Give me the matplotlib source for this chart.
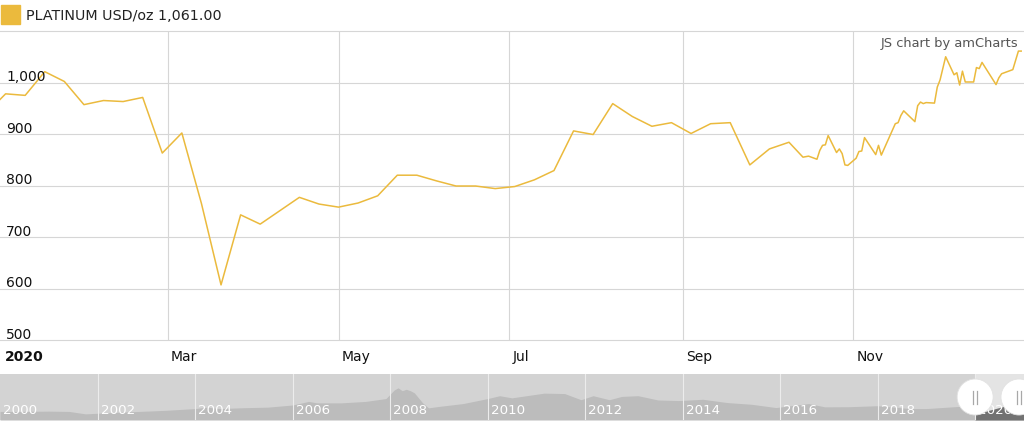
import matplotlib
matplotlib.use("Agg")
import matplotlib.pyplot as plt
import matplotlib.dates as mdates
import matplotlib.transforms as mtransforms
import numpy as np
import pandas as pd
from matplotlib.patches import Circle, Rectangle

# --- data -------------------------------------------------------------
dates = [
    "2020-01-01", "2020-01-03", "2020-01-10", "2020-01-17", "2020-01-24",
    "2020-01-31", "2020-02-07", "2020-02-14", "2020-02-21", "2020-02-28",
    "2020-03-06", "2020-03-13", "2020-03-20", "2020-03-27", "2020-04-03",
    "2020-04-17", "2020-04-24", "2020-05-01", "2020-05-08", "2020-05-15",
    "2020-05-22", "2020-05-29", "2020-06-05", "2020-06-12", "2020-06-19",
    "2020-06-26", "2020-07-03", "2020-07-10", "2020-07-17", "2020-07-24",
    "2020-07-31", "2020-08-07", "2020-08-14", "2020-08-21", "2020-08-28",
    "2020-09-04", "2020-09-11", "2020-09-18", "2020-09-25", "2020-10-02",
    "2020-10-09", "2020-10-14", "2020-10-16", "2020-10-19", "2020-10-20",
    "2020-10-21", "2020-10-22", "2020-10-23", "2020-10-26", "2020-10-27",
    "2020-10-28", "2020-10-29", "2020-10-30", "2020-11-02", "2020-11-03",
    "2020-11-04", "2020-11-05", "2020-11-09", "2020-11-10", "2020-11-11",
    "2020-11-16", "2020-11-17", "2020-11-18", "2020-11-19", "2020-11-23",
    "2020-11-24", "2020-11-25", "2020-11-26", "2020-11-27", "2020-11-30",
    "2020-12-01", "2020-12-02", "2020-12-04", "2020-12-07", "2020-12-08",
    "2020-12-09", "2020-12-10", "2020-12-11", "2020-12-14", "2020-12-15",
    "2020-12-16", "2020-12-17", "2020-12-22", "2020-12-23", "2020-12-24",
    "2020-12-28", "2020-12-30", "2020-12-31",
]
prices = [
    967, 978, 975, 1021, 1002,
    957, 965, 963, 971, 863,
    902, 765, 607, 743, 725,
    777, 764, 758, 766, 780,
    820, 820, 809, 799, 799,
    794, 798, 811, 829, 906,
    899, 959, 934, 915, 922,
    901, 920, 922, 840, 871,
    884, 855, 857, 851, 868,
    878, 879, 897, 864, 871,
    862, 840, 839, 853, 866,
    867, 893, 860, 878, 859,
    920, 922, 936, 945, 924,
    955, 962, 959, 961, 960,
    991, 1005, 1050, 1015, 1019,
    995, 1022, 1001, 1001, 1029,
    1027, 1039, 996, 1009, 1017,
    1025, 1061, 1061,
]

y_ticks = [500, 600, 700, 800, 900, 1000, 1100]
y_labels = ["500", "600", "700", "800", "900", "1,000", ""]
month_ticks = ["2020-03-01", "2020-05-01", "2020-07-01", "2020-09-01", "2020-11-01"]
month_labels = ["Mar", "May", "Jul", "Sep", "Nov"]

# long history shown in the scrollbar (approximate)
hist_dates = [
    "2000-01-01", "2000-06-01", "2001-01-01", "2001-06-01", "2001-10-01",
    "2002-01-01", "2002-06-01", "2003-01-01", "2003-06-01", "2004-01-01",
    "2004-04-01", "2004-07-01", "2005-01-01", "2005-07-01", "2006-01-01",
    "2006-05-01", "2006-07-01", "2007-01-01", "2007-07-01", "2007-12-01",
    "2008-02-01", "2008-03-01", "2008-04-01", "2008-05-01", "2008-06-01",
    "2008-07-01", "2008-09-01", "2008-10-15", "2009-01-01", "2009-07-01",
    "2010-01-01", "2010-04-01", "2010-07-01", "2011-01-01", "2011-03-01",
    "2011-08-01", "2011-12-01", "2012-03-01", "2012-07-01", "2012-10-01",
    "2013-02-01", "2013-07-01", "2013-12-01", "2014-06-01", "2014-12-01",
    "2015-06-01", "2015-12-01", "2016-08-01", "2016-12-01", "2017-06-01",
    "2018-01-01", "2018-09-01", "2019-01-01", "2019-09-01", "2020-01-01",
    "2020-03-20", "2020-08-01", "2020-12-31",
]
hist_prices = [
    600, 600, 620, 600, 430,
    470, 540, 620, 680, 800,
    900, 800, 860, 900, 1050,
    1300, 1200, 1200, 1300, 1500,
    2100, 2250, 2050, 2150, 2050,
    1900, 1200, 850, 950, 1150,
    1500, 1700, 1550, 1800, 1880,
    1850, 1420, 1700, 1420, 1650,
    1700, 1400, 1360, 1450, 1220,
    1100, 870, 1150, 920, 930,
    1000, 800, 800, 950, 960,
    620, 950, 1061,
]
year_labels = ["2000", "2002", "2004", "2006", "2008", "2010",
               "2012", "2014", "2016", "2018", "2020"]

LINE = "#EBBA3D"
GRID = "#d6d6d6"
W, H = 1024, 429

plt.rcParams["font.family"] = ["DejaVu Sans"]
fig = plt.figure(figsize=(W / 100, H / 100), dpi=100)

# --- main chart -------------------------------------------------------
ax = fig.add_axes([0, 1 - 340 / H, 1, (340 - 31) / H])
ax.set_xlim(pd.Timestamp("2020-01-01"), pd.Timestamp("2021-01-01"))
ax.set_ylim(500, 1100)
for s in ax.spines.values():
    s.set_visible(False)
ax.set_xticks([])
ax.set_yticks([])

for v in y_ticks:
    ax.axhline(v, color=GRID, lw=0.8, zorder=1, clip_on=False)
for m in month_ticks:
    ax.axvline(pd.Timestamp(m), color=GRID, lw=0.8, zorder=1)

ax.plot(pd.to_datetime(dates), prices, color=LINE, lw=1.1, zorder=3)

ytrans = mtransforms.blended_transform_factory(ax.transAxes, ax.transData)
ytrans = mtransforms.offset_copy(ytrans, fig=fig, x=0, y=1.2, units="dots")
for v, lab in zip(y_ticks, y_labels):
    ax.text(6 / W, v, lab, transform=ytrans, fontsize=10, color="#111",
            va="baseline", ha="left", zorder=4)

xtrans = mtransforms.blended_transform_factory(ax.transData, ax.transAxes)
ylab = -(357 - 340) / (340 - 31)
ax.text(pd.Timestamp("2020-01-01"), ylab, "2020", fontsize=10, fontweight="bold",
        color="#111", va="center", ha="left", clip_on=False,
        transform=mtransforms.offset_copy(xtrans, fig=fig, x=5, y=0, units="dots"))
for m, lab in zip(month_ticks, month_labels):
    ax.text(pd.Timestamp(m), ylab, lab, fontsize=10, color="#111",
            va="center", ha="left", clip_on=False,
            transform=mtransforms.offset_copy(xtrans, fig=fig, x=3, y=0, units="dots"))

# legend and credit
fig.add_artist(Rectangle((1 / W, 1 - 24 / H), 19 / W, 19 / H,
                         transform=fig.transFigure, color=LINE))
fig.text(26 / W, 1 - 16.5 / H, "PLATINUM USD/oz 1,061.00", fontsize=10.3,
         color="#222", va="center", ha="left")
fig.text(1018 / W, 1 - 43.5 / H, "JS chart by amCharts", fontsize=9.4,
         color="#555", va="center", ha="right")

# --- scrollbar --------------------------------------------------------
sb = fig.add_axes([0, 1 - 420 / H, 1, 46 / H])
sb.set_xlim(pd.Timestamp("2000-01-01"), pd.Timestamp("2021-01-01"))
sb.set_ylim(0, 3220)
sb.set_facecolor("#d3d3d3")
for s in sb.spines.values():
    s.set_visible(False)
sb.set_xticks([])
sb.set_yticks([])

hd = pd.to_datetime(hist_dates)
hp = np.array(hist_prices)
sb.fill_between(hd, hp, color="#bcbcbc", lw=0, zorder=1)
sel0, sel1 = pd.Timestamp("2020-01-01"), pd.Timestamp("2021-01-01")
sb.axvspan(sel0, sel1, color="#e4e4e4", lw=0, zorder=2)
sel = hd >= sel0
sb.fill_between(hd[sel], hp[sel], color="#727272", lw=0, zorder=3)

strans = mtransforms.blended_transform_factory(sb.transData, sb.transAxes)
for y in year_labels:
    t = pd.Timestamp(y + "-01-01")
    if y != "2000":
        sb.axvline(t, color="#ececec", lw=0.8, zorder=4)
    sb.text(t, 9.3 / 46, y, fontsize=9.6, color="white", va="center", ha="left",
            zorder=5, transform=mtransforms.offset_copy(strans, fig=fig, x=3,
                                                        y=0, units="dots"))

# scrollbar handles, in figure pixels
ov = fig.add_axes([0, 0, 1, 1])
ov.set_xlim(0, W)
ov.set_ylim(H, 0)
ov.axis("off")
x0 = sb.transData.transform((mdates.date2num(sel0), 0))[0]
x1 = sb.transData.transform((mdates.date2num(sel1), 0))[0] - 5
for cx in (x0, x1):
    ov.add_patch(Circle((cx, 397), 18, facecolor="white", edgecolor="#e2e2e2",
                        lw=0.6, zorder=6))
    for dx in (-2, 2):
        ov.plot([cx + dx, cx + dx], [391, 404], color="#a8a8a8", lw=0.9, zorder=7)

fig.savefig("out.png", dpi=100)
